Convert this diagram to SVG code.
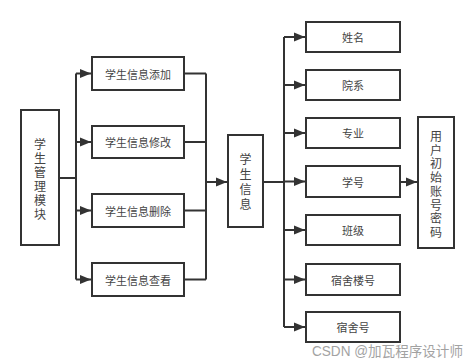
<svg xmlns="http://www.w3.org/2000/svg" width="474" height="362" viewBox="0 0 474 362">
<style>
.box{fill:#fff;stroke:#333;stroke-width:2}
.ln{fill:none;stroke:#333;stroke-width:2}
.t{font-family:"Noto Sans CJK SC","Liberation Sans",sans-serif;font-size:11px;fill:#444;text-anchor:middle;dominant-baseline:central}
.v{font-family:"Noto Sans CJK SC","Liberation Sans",sans-serif;font-size:12px;fill:#444;text-anchor:middle;dominant-baseline:central}
.wm{font-family:"Liberation Sans","Noto Sans CJK SC",sans-serif;font-size:14px;fill:#999;opacity:0.9}
</style>
<defs>
<marker id="ah" markerUnits="userSpaceOnUse" markerWidth="12" markerHeight="10" refX="11" refY="5" orient="auto">
<path d="M0,0.5 L11,5 L0,9.5 Z" fill="#333"/>
</marker>
</defs>
<rect width="474" height="362" fill="#fff"/>
<g id="connectors">
<path class="ln" d="M59,178 H76 M76,73.5 V279.5"/>
<path class="ln" d="M76,73.5 H91" marker-end="url(#ah)"/>
<path class="ln" d="M76,142 H91" marker-end="url(#ah)"/>
<path class="ln" d="M76,210.5 H91" marker-end="url(#ah)"/>
<path class="ln" d="M76,279.5 H91" marker-end="url(#ah)"/>
<path class="ln" d="M184,73.5 H206 M184,142 H206 M184,210.5 H206 M184,279.5 H206 M206,73.5 V279.5"/>
<path class="ln" d="M206,182 H227" marker-end="url(#ah)"/>
<path class="ln" d="M263,182 H284 M284,37 V327"/>
<path class="ln" d="M284,37 H305" marker-end="url(#ah)"/>
<path class="ln" d="M284,85 H305" marker-end="url(#ah)"/>
<path class="ln" d="M284,133 H305" marker-end="url(#ah)"/>
<path class="ln" d="M284,181.5 H305" marker-end="url(#ah)"/>
<path class="ln" d="M284,230 H305" marker-end="url(#ah)"/>
<path class="ln" d="M284,279.5 H305" marker-end="url(#ah)"/>
<path class="ln" d="M284,327 H305" marker-end="url(#ah)"/>
<path class="ln" d="M400,182 H417" marker-end="url(#ah)"/>
</g>
<g id="n-module">
<rect class="box" x="21" y="110" width="38" height="135"/>
<text class="v" x="40"><tspan x="40" y="143">学</tspan><tspan x="40" y="157">生</tspan><tspan x="40" y="171">管</tspan><tspan x="40" y="185">理</tspan><tspan x="40" y="199">模</tspan><tspan x="40" y="213">块</tspan></text>
</g>
<g id="n-add"><rect class="box" x="92" y="57" width="92" height="33"/><text class="t" x="138" y="73.5">学生信息添加</text></g>
<g id="n-edit"><rect class="box" x="92" y="126" width="92" height="32"/><text class="t" x="138" y="142">学生信息修改</text></g>
<g id="n-del"><rect class="box" x="92" y="194" width="92" height="33"/><text class="t" x="138" y="210.5">学生信息删除</text></g>
<g id="n-view"><rect class="box" x="92" y="263" width="92" height="33"/><text class="t" x="138" y="279.5">学生信息查看</text></g>
<g id="n-info">
<rect class="box" x="228" y="135" width="35" height="92"/>
<text class="v"><tspan x="245.5" y="158">学</tspan><tspan x="245.5" y="173">生</tspan><tspan x="245.5" y="188">信</tspan><tspan x="245.5" y="203">息</tspan></text>
</g>
<g id="n-name"><rect class="box" x="306" y="22" width="94" height="30"/><text class="t" x="353" y="37">姓名</text></g>
<g id="n-dept"><rect class="box" x="306" y="70" width="94" height="30"/><text class="t" x="353" y="85">院系</text></g>
<g id="n-major"><rect class="box" x="306" y="118" width="94" height="30"/><text class="t" x="353" y="133">专业</text></g>
<g id="n-id"><rect class="box" x="306" y="166" width="94" height="31"/><text class="t" x="353" y="181.5">学号</text></g>
<g id="n-class"><rect class="box" x="306" y="215" width="94" height="30"/><text class="t" x="353" y="230">班级</text></g>
<g id="n-bldg"><rect class="box" x="306" y="264" width="94" height="31"/><text class="t" x="353" y="279.5">宿舍楼号</text></g>
<g id="n-room"><rect class="box" x="306" y="312" width="94" height="30"/><text class="t" x="353" y="327">宿舍号</text></g>
<g id="n-account">
<rect class="box" x="418" y="117" width="36" height="131"/>
<text class="v"><tspan x="436" y="135">用</tspan><tspan x="436" y="148.7">户</tspan><tspan x="436" y="162.4">初</tspan><tspan x="436" y="176.1">始</tspan><tspan x="436" y="189.8">账</tspan><tspan x="436" y="203.5">号</tspan><tspan x="436" y="217.2">密</tspan><tspan x="436" y="231">码</tspan></text>
</g>
<text class="wm" x="312" y="356" textLength="151" lengthAdjust="spacingAndGlyphs">CSDN @加瓦程序设计师</text>
</svg>
